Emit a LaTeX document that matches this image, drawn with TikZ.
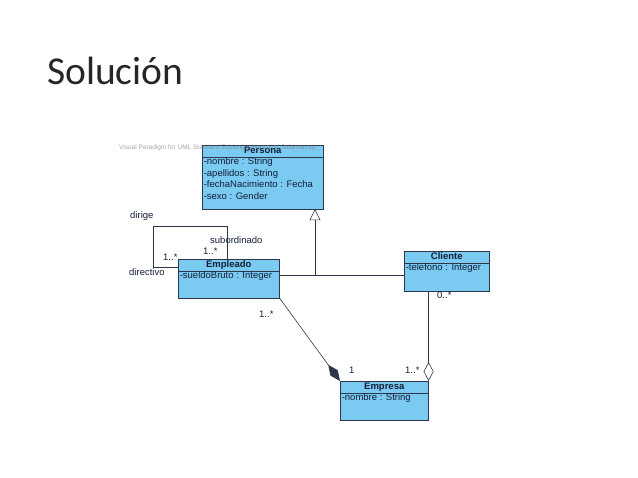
\documentclass[tikz,border=0pt]{standalone}
\usepackage{fontspec}
\setmainfont{Liberation Sans}
\newfontfamily\titlefont{Carlito}
\usetikzlibrary{shapes.multipart, arrows.meta}

\definecolor{classfill}{RGB}{122,202,242}
\definecolor{classline}{RGB}{45,55,75}
\definecolor{classtext}{RGB}{20,30,55}

% cabecera de clase y relleno inferior
\newcommand{\cabecera}[1]{\rule[-2.5pt]{0pt}{9.5pt}\textbf{#1}}
\newcommand{\relleno}[1]{\rule[-#1]{0pt}{#1}}

\begin{document}
\begin{tikzpicture}[
    x=1pt, y=-1pt,
    every node/.style={
        font=\fontsize{9.5}{11.5}\selectfont,
        text=classtext
    },
    umlclass/.style={
        rectangle split,
        rectangle split parts=2,
        rectangle split part align={center,left},
        align=left,
        draw=classline,
        fill=classfill,
        anchor=north west,
        inner xsep=1.5pt,
        inner ysep=0.75pt,
        line width=0.6pt
    },
    title/.style={
        font=\titlefont\fontsize{39.5}{42}\selectfont,
        text=black!85,
        anchor=base west,
        inner sep=0pt
    },
    watermark/.style={
        font=\fontsize{6.5}{7}\selectfont,
        text=black!50,
        text opacity=0.7,
        anchor=base west,
        inner sep=0pt
    },
    mult/.style={
        anchor=west,
        inner sep=1pt
    },
    line/.style={
        draw=classline,
        line width=0.6pt
    }
]
\useasboundingbox (0,0) rectangle (638,478);

\node[title] (titulo) at (47,85) {Solución};

% clases
\node[umlclass, minimum width=121pt] (persona) at (202,145)
    {\cabecera{Persona}
    \nodepart{two}-nombre : String\\
    -apellidos : String\\
    -fechaNacimiento : Fecha\\
    -sexo : Gender\relleno{8.5pt}};

\node[umlclass, minimum width=101pt] (empleado) at (178,259)
    {\cabecera{Empleado}
    \nodepart{two}-sueldoBruto : Integer\relleno{18pt}};

\node[umlclass, minimum width=85pt] (cliente) at (404,251)
    {\cabecera{Cliente}
    \nodepart{two}-telefono : Integer\relleno{19pt}};

\node[umlclass, minimum width=88pt] (empresa) at (340,381)
    {\cabecera{Empresa}
    \nodepart{two}-nombre : String\relleno{18pt}};

\node[watermark] (marca) at (119,150)
    {Visual Paradigm for UML Standard Edition(University of Salamanca)};

% herencia
\coordinate (union) at (315,275);
\draw[line] (empleado.east |- union) -- (cliente.west |- union);
\draw[line, -{Triangle[open, length=11pt, width=11pt]}] (union) -- (union |- persona.south);

% asociacion reflexiva
\coordinate (dirsup) at (227,226);
\coordinate (diriz) at (153,267);
\draw[line] (dirsup |- empleado.north) -- (dirsup) -| (diriz) -- (diriz -| empleado.west);

\node[mult] (dirige) at (129,216) {dirige};
\node[mult] (subordinado) at (209,240) {subordinado};
\node[mult] (multsub) at (202,251) {1..*};
\node[mult] (multdir) at (162,257) {1..*};
\node[mult] (directivo) at (128,272) {directivo};

% composicion y agregacion
\draw[line, -{Diamond[length=20pt, width=9pt]}] (empleado.south east) -- (empresa.north west);
\draw[line, -{Diamond[open, length=19pt, width=10pt]}] (cliente.south -| empresa.north east) -- (empresa.north east);

\node[mult] (multemp) at (258,314) {1..*};
\node[mult] (multuno) at (348,370) {1};
\node[mult] (multcli) at (436,295) {0..*};
\node[mult] (multagr) at (404,370) {1..*};

\end{tikzpicture}
\end{document}
